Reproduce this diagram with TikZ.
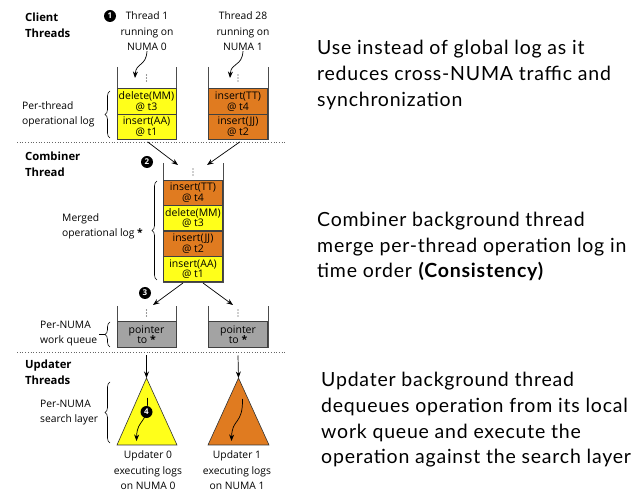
\documentclass[tikz,border=0pt]{standalone}
\usepackage{fontspec}
\setmainfont{Open Sans}
\newfontfamily\rfont[LetterSpace=4]{Lato}
\usetikzlibrary{arrows.meta,decorations.pathreplacing,calc}
\definecolor{cyel}{HTML}{FFFF1A}
\definecolor{corg}{HTML}{E07B20}
\definecolor{cgry}{HTML}{A3A3A3}
\begin{document}
\begin{tikzpicture}[x=1pt,y=-1pt,
  lbl/.style={font=\fontsize{10.3}{15.5}\selectfont, align=center, inner sep=0,
    execute at begin node={\setlength{\baselineskip}{15.5pt}}},
  lbll/.style={font=\fontsize{10.3}{15}\selectfont, align=left, inner sep=0, anchor=west,
    execute at begin node={\setlength{\baselineskip}{15pt}}},
  hdr/.style={font=\bfseries\fontsize{11.3}{16}\selectfont, align=left, inner sep=0, anchor=west,
    execute at begin node={\setlength{\baselineskip}{16pt}}},
  cell/.style={draw=black!75, line width=0.7, minimum width=59, minimum height=25.3, inner sep=0, align=center, font=\fontsize{10.5}{10.5}\selectfont},
  yel/.style={cell, fill=cyel},
  org/.style={cell, fill=corg},
  gry/.style={cell, fill=cgry},
  wall/.style={draw=black!70, line width=0.8},
  arr/.style={-{Stealth[length=6.5,width=5]}, line width=0.7},
  num/.style={circle, fill=black, text=white, font=\bfseries\fontsize{8}{8}\selectfont, inner sep=0, minimum size=12},
  brc/.style={decorate, decoration={brace, amplitude=5}, line width=0.6},
  sepl/.style={dotted, line width=0.7, black!60},
  vdot/.style={fill=black!80},
  rtext/.style={font=\rfont\fontsize{19.5}{25.7}\selectfont, align=left, anchor=west, inner sep=0}]
\useasboundingbox (0,0) rectangle (643,502);

% ---------- Client threads ----------
\node[hdr] (hclient) at (25,25) {Client\\Threads};
\node[num] (n1) at (110,16) {1};
\node[lbl] (t1) at (147,31.5) {Thread 1\\running on\\NUMA 0};
\node[lbl] (t28) at (243,31.5) {Thread 28\\running on\\NUMA 1};

% left per-thread queue
\draw[wall] (117,67) -- (117,139) -- (176,139) -- (176,67);
\node[yel] (c1a) at (146.5,101.5) {delete(MM)\\@ t3};
\node[yel] (c1b) at (146.5,126.8) {insert(AA)\\@ t1};
\foreach \dy in {-3,0,3} \fill[vdot] (146.5,78+\dy) circle (0.6);
% right per-thread queue
\draw[wall] (208,67) -- (208,139) -- (268,139) -- (268,67);
\node[org] (c2a) at (238,101.5) {insert(TT)\\@ t4};
\node[org] (c2b) at (238,126.8) {insert(JJ)\\@ t2};
\foreach \dy in {-3,0,3} \fill[vdot] (238,78+\dy) circle (0.6);

\coordinate (q1in) at (135,78);
\coordinate (q2in) at (230,78);
\draw[arr] (t1.south) .. controls (146,67) and (136,62) .. (q1in);
\draw[arr] (t28.south) .. controls (242,67) and (231,62) .. (q2in);

\draw[brc] (110,138) -- (110,91);
\node[lbll] (lpt) at (22,114.5) {Per-thread\\operational log};

\draw[sepl] (17,142.5) -- (285,142.5);

% ---------- Combiner ----------
\node[hdr] (hcomb) at (25,164.5) {Combiner\\Thread};
\node[num] (n2) at (147,162) {2};
\draw[wall] (163,163) -- (163,282) -- (223,282) -- (223,163);
\node[org] (m1) at (193,192.8) {insert(TT)\\@ t4};
\node[yel] (m2) at (193,218.2) {delete(MM)\\@ t3};
\node[org] (m3) at (193,243.6) {insert(JJ)\\@ t2};
\node[yel] (m4) at (193,269) {insert(AA)\\@ t1};
\foreach \dy in {-3,0,3} \fill[vdot] (193,172+\dy) circle (0.6);

\coordinate (min1) at (178,165);
\coordinate (min2) at (207,165);
\draw[arr] ($(c1b.south)+(1,2)$) -- (min1);
\draw[arr] ($(c2b.south)+(2,2)$) -- (min2);

\draw[brc] (157,280) -- (157,181);
\node[lbll] (lmerged) at (62,226) {Merged\\operational log \textbf{*}};

% ---------- Work queues ----------
\node[num] (n3) at (145,293) {3};
\coordinate (w0in) at (153,305);
\coordinate (w1in) at (233,305);
\draw[arr] ($(m4.south)+(-10,1)$) -- (w0in);
\draw[arr] ($(m4.south)+(10,1)$) -- (w1in);

\draw[wall] (117,306) -- (117,347) -- (176,347) -- (176,306);
\node[gry] (w0) at (146.5,334.5) {pointer\\to \textbf{*}};
\foreach \dy in {-3,0,3} \fill[vdot] (146.5,313+\dy) circle (0.6);
\draw[wall] (208,306) -- (208,347) -- (268,347) -- (268,306);
\node[gry] (w1) at (238,334.5) {pointer\\to \textbf{*}};
\foreach \dy in {-3,0,3} \fill[vdot] (238,313+\dy) circle (0.6);

\draw[brc] (110,347) -- (110,322);
\draw[line width=0.6] (99,334.5) -- (105,334.5);
\node[lbll] (lwq) at (40,334) {Per-NUMA\\work queue};

\draw[sepl] (17,352.5) -- (285,352.5);

% ---------- Updater threads ----------
\node[hdr] (hupd) at (25,372) {Updater\\Threads};
\coordinate (tri0) at (146.5,378);
\coordinate (tri1) at (238.5,378);
\draw[black!80, line width=0.6, fill=cyel] (tri0) -- (117,445) -- (177,445) -- cycle;
\draw[black!80, line width=0.6, fill=corg] (tri1) -- (208,445) -- (269,445) -- cycle;
\draw[arr] ($(w0.south)+(0,8)$) -- (tri0);
\draw[arr] ($(w1.south)+(0,8)$) -- (tri1);

\coordinate (s0a) at (147.5,398);
\coordinate (s0b) at (136.5,441);
\coordinate (s1a) at (242.5,399);
\coordinate (s1b) at (231.5,441);
\draw[arr] (s0a) .. controls (148.5,425) and (137,418) .. (s0b);
\draw[arr] (s1a) .. controls (243,425) and (232,418) .. (s1b);
\node[num] (n4) at (146.5,412) {4};

\draw[brc] (110,443) -- (110,382);
\node[lbll] (lsl) at (40,413) {Per-NUMA\\search layer};

\node[lbl] (u0) at (148,470.5) {Updater 0\\executing logs\\on NUMA 0};
\node[lbl] (u1) at (237,470.5) {Updater 1\\executing logs\\on NUMA 1};

% ---------- Right-hand notes ----------
\node[rtext] (r1) at (317,75) {Use instead of global log as it\\reduces cross-NUMA traffic and\\synchronization};
\node[rtext] (r2) at (317,246.5) {Combiner background thread\\merge per-thread operation log in\\time order \textbf{(Consistency)}};
\node[rtext] (r3) at (321,420) {Updater background thread\\dequeues operation from its local\\work queue and execute the\\operation against the search layer};
\end{tikzpicture}
\end{document}
